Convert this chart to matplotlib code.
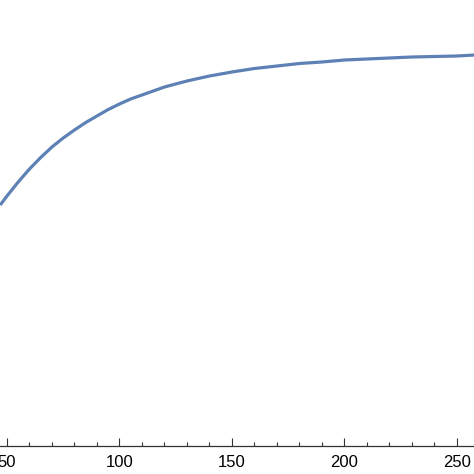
import numpy as np
import matplotlib.pyplot as plt
from matplotlib.ticker import MultipleLocator

# curve (height above the axis, arbitrary units)
t = [47, 50, 55, 60, 65, 70, 75, 80, 85, 90, 95, 100, 105, 110, 115,
     120, 125, 130, 135, 140, 145, 150, 160, 170, 180, 190, 200, 210,
     220, 230, 240, 250, 258]
y = [241, 250, 264, 277, 288.5, 299, 308, 316, 323.5, 330, 336.5, 342,
     347, 351, 355, 359, 362, 365, 367.5, 370, 372, 374, 377.5, 380,
     382.5, 384, 386, 387, 388, 389, 389.5, 390, 391]

plt.rcParams['font.family'] = ['Liberation Sans', 'DejaVu Sans']

fig = plt.figure(figsize=(4.74, 4.74), dpi=100)
ax = fig.add_axes([0, 28 / 474, 1, 446 / 474])

ax.plot(t, y, color='#5E81B5', lw=2.3, solid_capstyle='butt',
        solid_joinstyle='round')

ax.set_xlim(46.9, 257.6)
ax.set_ylim(0, 446)

for s in ['left', 'right', 'top']:
    ax.spines[s].set_visible(False)
ax.spines['bottom'].set_color('#333333')
ax.spines['bottom'].set_linewidth(0.9)

ax.xaxis.set_major_locator(MultipleLocator(50))
ax.xaxis.set_minor_locator(MultipleLocator(10))
ax.tick_params(axis='x', which='major', direction='in', length=5.8, width=0.8,
               color='#333333', labelsize=12, pad=6.5)
ax.tick_params(axis='x', which='minor', direction='in', length=3, width=0.8,
               color='#333333')
ax.set_yticks([])

fig.savefig('out.png', dpi=100)
